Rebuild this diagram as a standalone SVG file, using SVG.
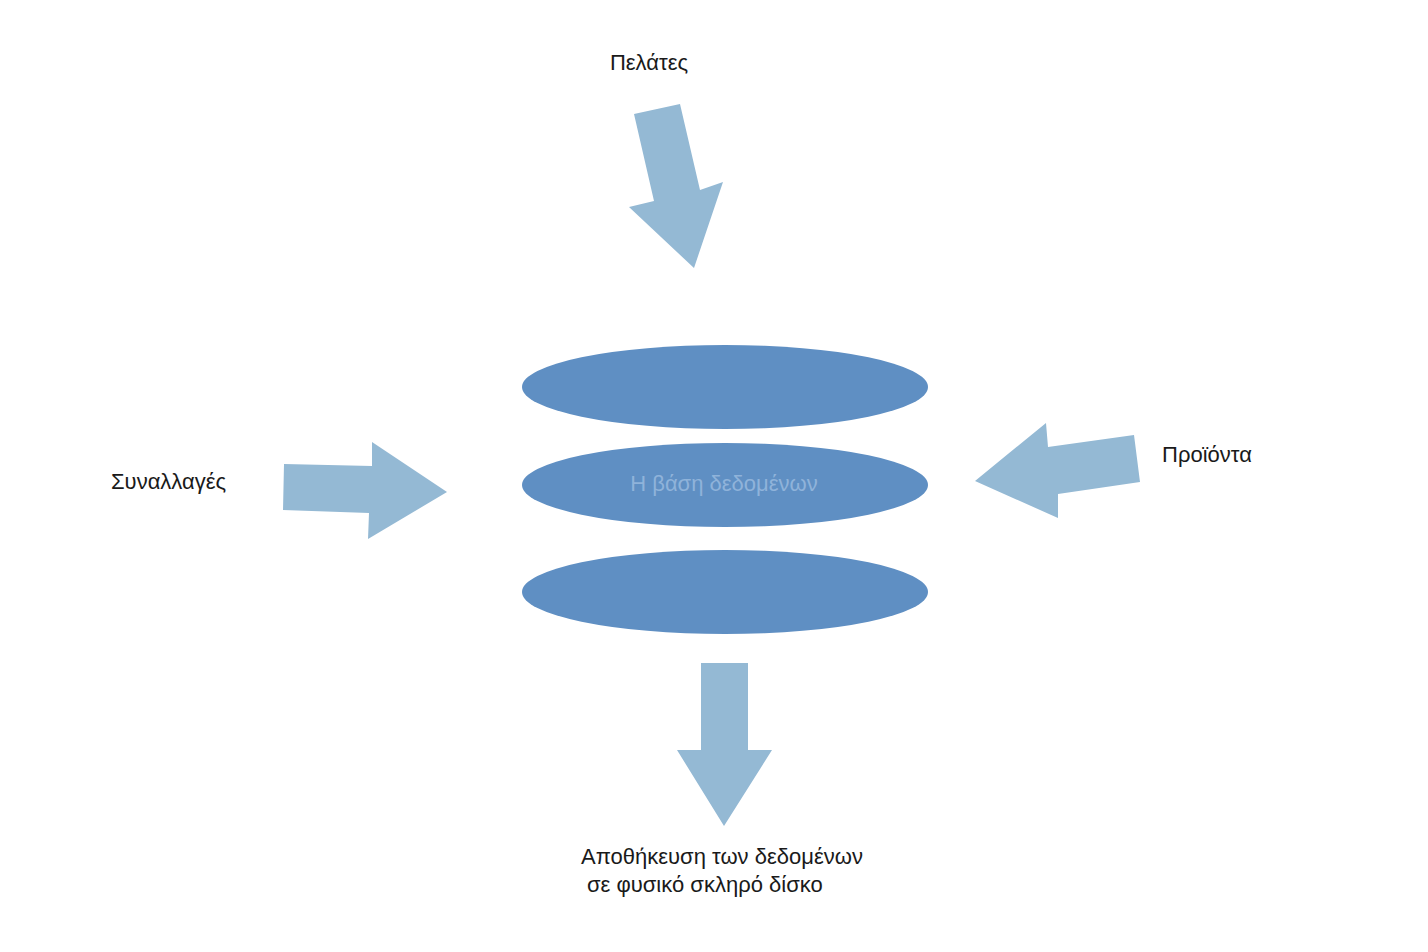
<svg xmlns="http://www.w3.org/2000/svg" width="1428" height="952" viewBox="0 0 1428 952">
<style>
.e{fill:#5f8fc3}
.a{fill:#94b9d4}
.t{font-family:"Liberation Sans",Arial,sans-serif;font-size:22px;fill:#1a1a1a}
</style>
<rect width="1428" height="952" fill="#fff"/>
<g id="db">
<ellipse class="e" cx="725" cy="387" rx="203" ry="42"/>
<ellipse class="e" cx="725" cy="485" rx="203" ry="42"/>
<ellipse class="e" cx="725" cy="592" rx="203" ry="42"/>
<text x="724" y="491" text-anchor="middle" style="font-family:'Liberation Sans',Arial,sans-serif;font-size:22px;fill:#8fb3da">Η βάση δεδομένων</text>
</g>
<g id="connectors">
<polygon class="a" points="634,114 680,104 700,190 723,182 694,268 629,207 654,201"/>
<polygon class="a" points="284,464 372,466 372,442 447,492 368,539 369,513 283,510"/>
<polygon class="a" points="1134,435 1140,482 1058,494 1058,518 975,481 1046,423 1048,447"/>
<polygon class="a" points="701,663 748,663 748,750 772,750 724,826 677,750 701,750"/>
</g>
<g id="pelates"><text class="t" x="649" y="70" text-anchor="middle">Πελάτες</text></g>
<g id="synallages"><text class="t" x="111" y="489">Συναλλαγές</text></g>
<g id="proionta"><text class="t" x="1162" y="462">Προϊόντα</text></g>
<g id="apothikeusi"><text class="t" x="581" y="864">Αποθήκευση των δεδομένων</text><text class="t" x="587" y="892">σε φυσικό σκληρό δίσκο</text></g>
</svg>
